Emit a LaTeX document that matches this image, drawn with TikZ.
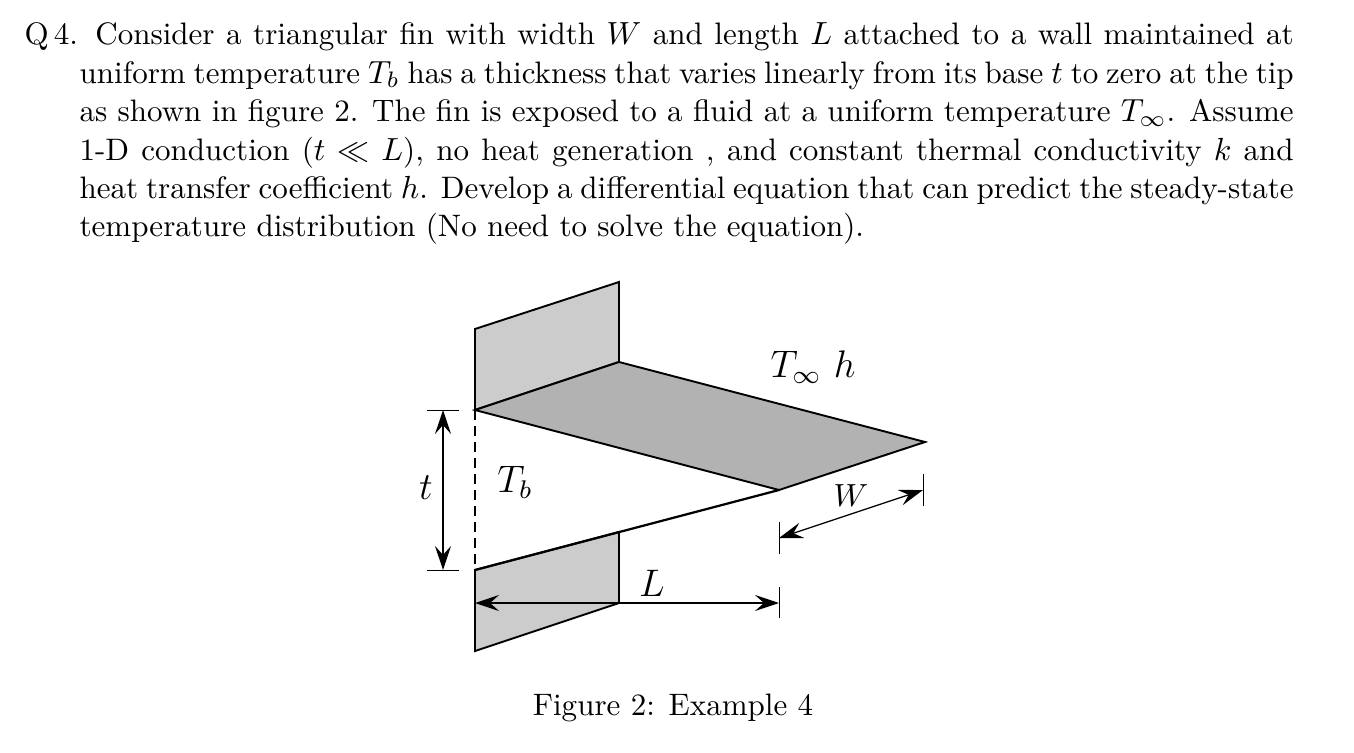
\documentclass[tikz,border=0pt]{standalone}
\usetikzlibrary{arrows.meta}
\tikzset{
  wall/.style={draw,line width=0.6pt,fill=black!20,line join=miter},
  fin/.style={draw,line width=0.6pt,fill=black!30,line join=miter},
  dim/.style={line width=0.4pt,{Stealth[length=7.5pt,width=5pt,inset=2.8pt]}-{Stealth[length=7.5pt,width=5pt,inset=2.8pt]}},
  tick/.style={line width=0.3pt},
  lbl/.style={inner sep=0pt}
}
\begin{document}
\begin{tikzpicture}[x=0.3125pt,y=-0.3125pt,font=\fontsize{9.7}{12.03}\selectfont]
      \useasboundingbox (0,0) rectangle (1354,752);

      \coordinate (WallTopA) at (475,329);
      \coordinate (WallTopB) at (619,282);
      \coordinate (Root) at (619,362);
      \coordinate (BaseTop) at (475,410);
      \coordinate (FinFar) at (925,442);
      \coordinate (FinTip) at (779,490);
      \coordinate (BaseBot) at (475,570);
      \coordinate (WallBotB) at (619,532);
      \coordinate (WallBotC) at (619,603);
      \coordinate (WallBotA) at (475,651);

      \draw [wall] (WallTopA)--(WallTopB)--(Root)--(BaseTop)--cycle;
      \draw [wall] (BaseBot)--(WallBotB)--(WallBotC)--(WallBotA)--cycle;
      \draw [fin] (BaseTop)--(Root)--(FinFar)--(FinTip)--cycle;
      \draw [line width=0.7pt] (BaseBot)--(FinTip);
      \draw [line width=0.5pt,dash pattern=on 3pt off 2pt] (BaseTop)--(BaseBot);

      \coordinate (TickTA) at (427,410);
      \coordinate (TickTB) at (459,410);
      \coordinate (TickBA) at (427,570);
      \coordinate (TickBB) at (459,570);
      \coordinate (TUp) at (443,410);
      \coordinate (TDown) at (443,570);
      \draw [tick] (TickTA)--(TickTB);
      \draw [tick] (TickBA)--(TickBB);
      \draw [dim] (TUp)--(TDown);

      \coordinate (LLeft) at (475,603);
      \coordinate (LRight) at (779,603);
      \coordinate (LTickA) at (779,587);
      \coordinate (LTickB) at (779,618);
      \draw [tick] (LTickA)--(LTickB);
      \draw [dim] (LLeft)--(LRight);

      \coordinate (WLeft) at (779,538);
      \coordinate (WRight) at (923,490);
      \coordinate (WTickA) at (779,522);
      \coordinate (WTickB) at (779,554);
      \coordinate (WTickC) at (923,474);
      \coordinate (WTickD) at (923,506);
      \draw [tick] (WTickA)--(WTickB);
      \draw [tick] (WTickC)--(WTickD);
      \draw [dim] (WLeft)--(WRight);

      \node [lbl] (LabelFluid) at (813,367) {\fontsize{12}{14}\selectfont $T_\infty\ h$};
      \node [lbl] (LabelBase) at (515,482) {\fontsize{11.5}{14}\selectfont $T_b$};
      \node [lbl] (LabelThick) at (426,488) {\fontsize{12}{14}\selectfont $t$};
      \node [lbl] (LabelLen) at (652,583) {\fontsize{12}{14}\selectfont $L$};
      \node [lbl] (LabelWidth) at (851,496) {$W$};

      \node [lbl,anchor=north west,text width=379.4pt,align=justify] (Question) at (79,22) {%
        \hspace*{-17.2pt}Q\,4. Consider a triangular fin with width $W$ and length $L$ attached to a wall maintained at\linebreak
        uniform temperature $T_b$ has a thickness that varies linearly from its base $t$ to zero at the tip\linebreak
        as shown in figure 2. The fin is exposed to a fluid at a uniform temperature $T_\infty$. Assume\linebreak
        1-D conduction ($t \ll L$), no heat generation , and constant thermal conductivity $k$ and\linebreak
        heat transfer coefficient $h$. Develop a differential equation that can predict the steady-state\linebreak
        temperature distribution (No need to solve the equation).\par};
      \node [lbl] (Caption) at (673,708) {Figure 2: Example 4};
    \end{tikzpicture}
\end{document}
